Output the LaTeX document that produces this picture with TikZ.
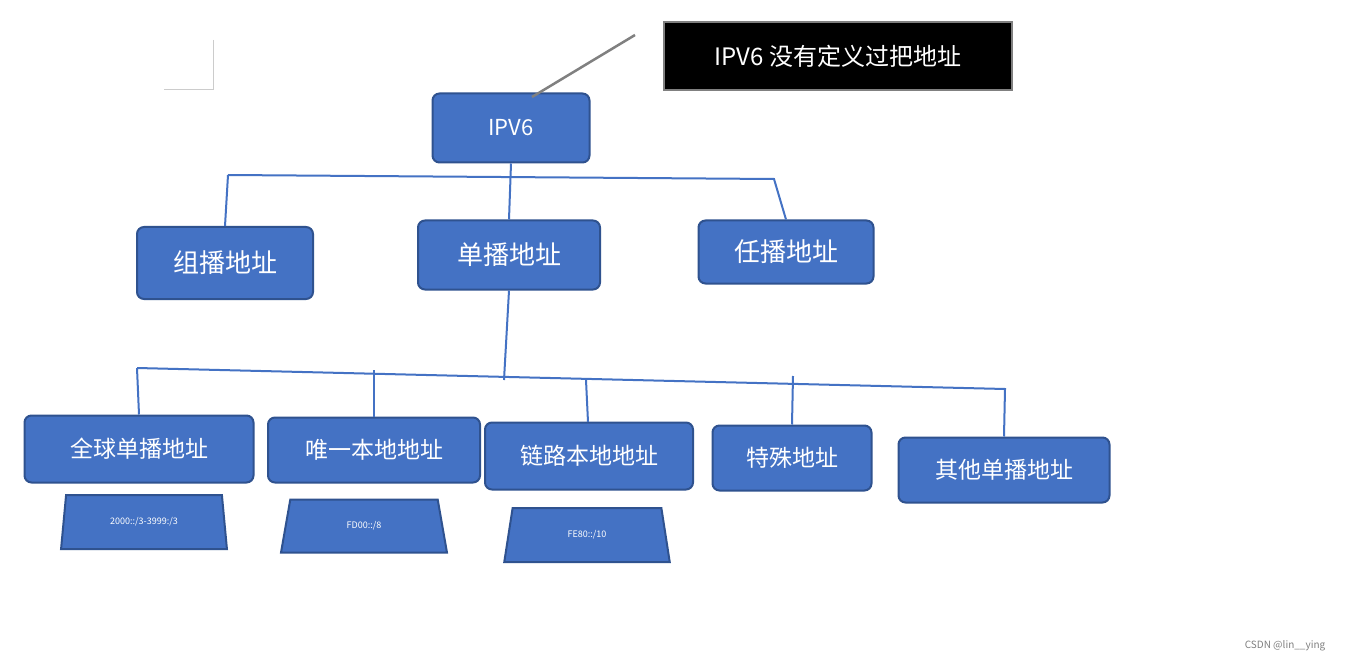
\documentclass[tikz,border=0pt]{standalone}
\usepackage{fontspec}
\setmainfont{Noto Sans CJK SC}
\usetikzlibrary{shapes.geometric, positioning}
\definecolor{boxfill}{HTML}{4472C4}
\definecolor{boxline}{HTML}{2F528F}

\begin{document}
\begin{tikzpicture}[x=1pt, y=-1pt, thick,
    box/.style = {draw=boxline, line width=2pt, fill=boxfill, rounded corners=7pt, text=white, inner sep=0pt},
    tag/.style = {draw=boxline, line width=2pt, fill=boxfill, trapezium, trapezium left angle=76, trapezium right angle=76, trapezium stretches=true, text=white, inner sep=0pt, font=\fontsize{9}{10}\selectfont},
    link/.style = {boxfill, line width=2pt}]
    \useasboundingbox (0,0) rectangle (1357,663);
    \fill[white] (0,0) rectangle (1357,663);

    % corner mark
    \draw[gray!40, line width=0.8pt] (213,40) -- (213,89) -- (164,89);

    \node[box, minimum width=157pt, minimum height=69pt, font=\fontsize{22}{24}\selectfont] (ipv6) at (511,128) {IPV6};
    \node[draw=gray, line width=2pt, fill=black, text=white, minimum width=348pt, minimum height=68pt, font=\fontsize{24}{26}\selectfont] (note) at (838,56) {IPV6 没有定义过把地址};
    \coordinate (pin) at (635,35);
    \draw[gray, line width=2.5pt] (pin) -- (532,97);

    \node[box, minimum width=176pt, minimum height=72pt, font=\fontsize{26}{28}\selectfont] (multi) at (225,263) {组播地址};
    \node[box, minimum width=182pt, minimum height=69pt, font=\fontsize{26}{28}\selectfont] (uni) at (509,255) {单播地址};
    \node[box, minimum width=175pt, minimum height=63pt, font=\fontsize{26}{28}\selectfont] (any) at (786,252) {任播地址};

    \node[box, minimum width=229pt, minimum height=67pt, font=\fontsize{23}{25}\selectfont] (glob) at (139,449) {全球单播地址};
    \node[box, minimum width=212pt, minimum height=65pt, font=\fontsize{23}{25}\selectfont] (ula) at (374,450) {唯一本地地址};
    \node[box, minimum width=208pt, minimum height=67pt, font=\fontsize{23}{25}\selectfont] (link) at (589,456) {链路本地地址};
    \node[box, minimum width=159pt, minimum height=65pt, font=\fontsize{23}{25}\selectfont] (spec) at (792,458) {特殊地址};
    \node[box, minimum width=211pt, minimum height=65pt, font=\fontsize{23}{25}\selectfont] (other) at (1004,470) {其他单播地址};

    \node[tag, minimum width=167pt, minimum height=54pt] (t1) at (144,522) {2000::/3-3999:/3};
    \node[tag, minimum width=166pt, minimum height=53pt] (t2) at (364,526) {FD00::/8};
    \node[tag, minimum width=166pt, minimum height=54pt] (t3) at (587,535) {FE80::/10};

    % upper bus
    \coordinate (b1l) at (228,175);
    \coordinate (b1r) at (774,179);
    \draw[link] (b1l) -- (b1r) -- (any.north);
    \draw[link] (b1l) -- (multi.north);
    \draw[link] (ipv6.south) -- (uni.north);

    % lower bus
    \coordinate (b2l) at (137,368);
    \coordinate (b2r) at (1005,389);
    \draw[link] (b2l) -- (b2r) -- (other.north);
    \draw[link] (b2l) -- (glob.north);
    \draw[link] (uni.south) -- (504,380);
    \draw[link] (374,370) -- (ula.north);
    \draw[link] (586,380) -- (588,422);
    \draw[link] (793,376) -- (spec.north);

    \node[gray, font=\fontsize{10}{12}\selectfont] (mark) at (1285,646) {CSDN @lin\_\_ying};
\end{tikzpicture}
\end{document}
